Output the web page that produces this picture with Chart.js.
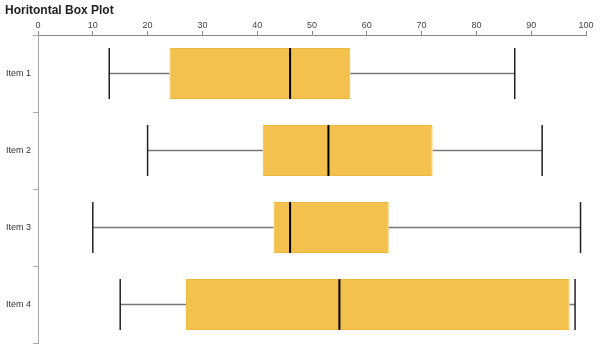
<!DOCTYPE html>
<html>
<head>
<meta charset="utf-8">
<script src="https://cdn.jsdelivr.net/npm/chart.js@4/dist/chart.umd.min.js"></script>
<style>
  html, body { margin:0; padding:0; background:#fff; }
  #wrap { width:600px; height:360px; }
</style>
</head>
<body>
<div id="wrap"><canvas id="chart" width="600" height="360"></canvas></div>
<script>
// box plot data
const labels  = ['Item 1', 'Item 2', 'Item 3', 'Item 4'];
const mins    = [13, 20, 10, 15];
const q1s     = [24, 41, 43, 27];
const medians = [46, 53, 46, 55];
const q3s     = [57, 72, 64, 97];
const maxs    = [87, 92, 99, 98];

const FONT = 'Liberation Sans, Arial, sans-serif';

// whiskers + caps under the boxes, median line on top
const boxParts = {
  id: 'boxParts',
  beforeDatasetsDraw(chart) {
    const ctx = chart.ctx, x = chart.scales.x;
    chart.getDatasetMeta(0).data.forEach((bar, i) => {
      const top = bar.y - bar.height / 2, bot = bar.y + bar.height / 2;
      const xMin = x.getPixelForValue(mins[i]), xMax = x.getPixelForValue(maxs[i]);
      ctx.save();
      ctx.strokeStyle = '#777';
      ctx.lineWidth = 1.5;
      ctx.beginPath();
      ctx.moveTo(xMin, bar.y); ctx.lineTo(x.getPixelForValue(q1s[i]), bar.y);
      ctx.moveTo(x.getPixelForValue(q3s[i]), bar.y); ctx.lineTo(xMax, bar.y);
      ctx.stroke();
      ctx.strokeStyle = '#222';
      ctx.beginPath();
      ctx.moveTo(xMin, top); ctx.lineTo(xMin, bot);
      ctx.moveTo(xMax, top); ctx.lineTo(xMax, bot);
      ctx.stroke();
      ctx.restore();
    });
  },
  afterDatasetsDraw(chart) {
    const ctx = chart.ctx, x = chart.scales.x;
    chart.getDatasetMeta(0).data.forEach((bar, i) => {
      const top = bar.y - bar.height / 2, bot = bar.y + bar.height / 2;
      const xm = x.getPixelForValue(medians[i]);
      ctx.save();
      ctx.strokeStyle = '#000';
      ctx.lineWidth = 2;
      ctx.beginPath();
      ctx.moveTo(xm, top); ctx.lineTo(xm, bot);
      ctx.stroke();
      ctx.restore();
    });
  }
};

new Chart(document.getElementById('chart'), {
  type: 'bar',
  data: {
    labels: labels,
    datasets: [{
      data: labels.map((_, i) => [q1s[i], q3s[i]]),
      backgroundColor: '#f2c14e',
      borderColor: '#efb83a',
      borderWidth: 1,
      borderSkipped: false,
      categoryPercentage: 1,
      barPercentage: 0.66
    }]
  },
  options: {
    indexAxis: 'y',
    responsive: false,
    animation: false,
    layout: { padding: { left: 5, right: 14, bottom: 17, top: 0 } },
    plugins: {
      legend: { display: false },
      tooltip: { enabled: false },
      title: {
        display: true,
        text: 'Horitontal Box Plot',
        align: 'start',
        color: '#222',
        font: { family: FONT, size: 12, weight: 'bold' },
        padding: { top: 3, bottom: 0 }
      }
    },
    scales: {
      x: {
        position: 'top',
        min: 0,
        max: 100,
        afterFit(scale) { scale.height = 17.6; },
        ticks: { stepSize: 10, color: '#444', padding: 0, font: { family: FONT, size: 9 } },
        grid: { drawOnChartArea: false, tickLength: 4, color: '#888' },
        border: { color: '#888' }
      },
      y: {
        afterFit(scale) { scale.width = 33; },
        ticks: { color: '#333', padding: 2, font: { family: FONT, size: 9 } },
        grid: { drawOnChartArea: false, tickLength: 5, offset: true, color: '#aaa' },
        border: { color: '#aaa' }
      }
    }
  },
  plugins: [boxParts]
});
</script>
</body>
</html>
